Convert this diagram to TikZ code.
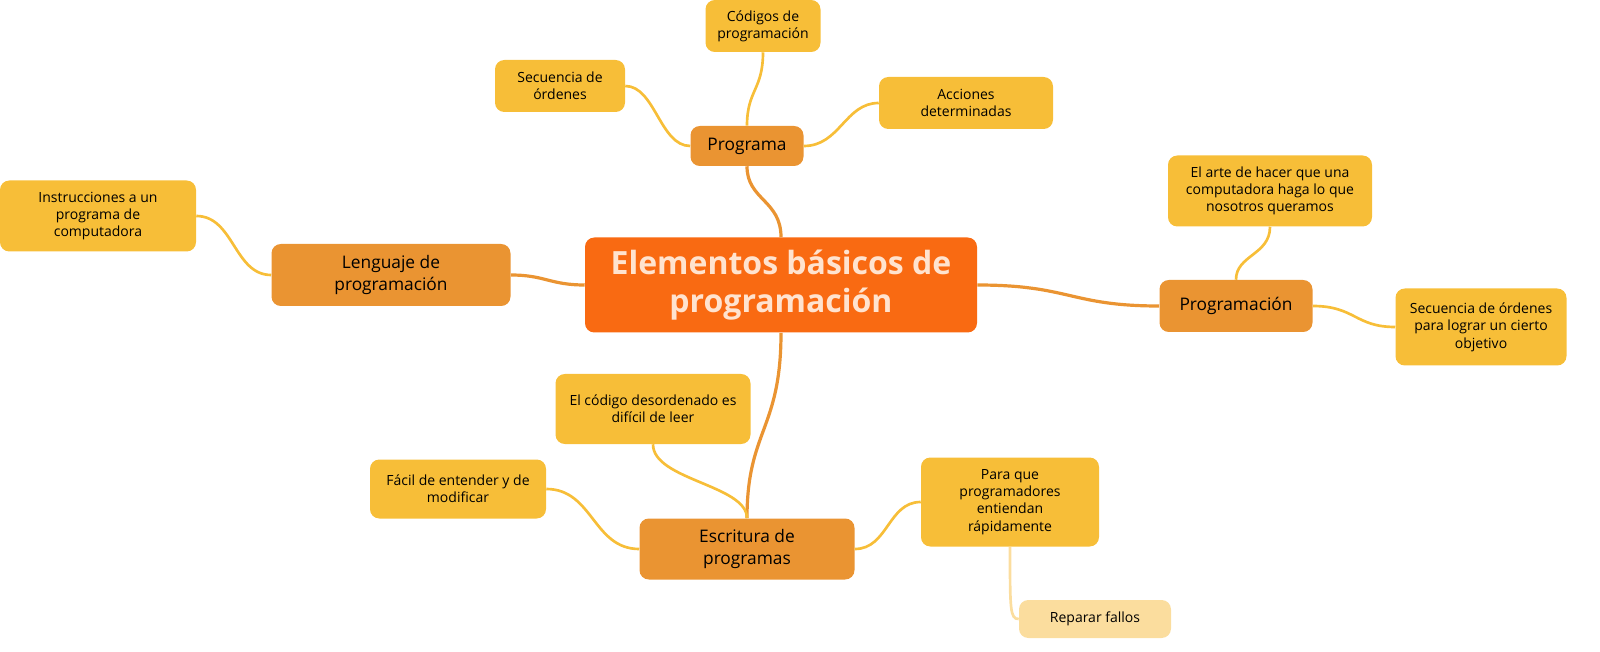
\documentclass[tikz,border=0pt]{standalone}
\usepackage{fontspec}
\setmainfont{Open Sans}
\definecolor{cmain}{HTML}{F96A12}
\definecolor{cmid}{HTML}{EA9432}
\definecolor{cleaf}{HTML}{F7BE38}
\definecolor{clight}{HTML}{FBDD9E}
\definecolor{ctext}{HTML}{FFE3CF}
\begin{document}
\begin{tikzpicture}[x=0.75pt,y=-0.75pt,
  box/.style 2 args={rounded corners=7pt,minimum width=#1*0.75pt,minimum height=#2*0.75pt,inner sep=1pt,align=center},
  mainbox/.style={box={392}{95},fill=cmain,text=ctext,font=\bfseries\fontsize{24}{28}\selectfont},
  midbox/.style={fill=cmid,text=black,font=\fontsize{13}{16}\selectfont},
  leafbox/.style={fill=cleaf,text=black,font=\fontsize{10.5}{13}\selectfont},
  mline/.style={draw=cmid,line width=2.4pt},
  lline/.style={draw=cleaf,line width=2pt},
  xline/.style={draw=clight,line width=2pt}]
\useasboundingbox (0,0) rectangle (1600,652);
\node[mainbox] (c) at (781,285) {Elementos básicos de\\programación};
\node[box={113}{40},midbox] (p) at (747,146) {Programa};
\node[box={239}{62},midbox] (l) at (391,275) {Lenguaje de\\programación};
\node[box={153}{52},midbox] (g) at (1236,306) {Programación};
\node[box={215}{61},midbox] (e) at (747,549) {Escritura de\\programas};
\node[box={115}{52},leafbox] (p1) at (763,26) {Códigos de\\programación};
\node[box={130}{52},leafbox] (p2) at (560,86) {Secuencia de\\órdenes};
\node[box={174}{52},leafbox] (p3) at (966,103) {Acciones\\determinadas};
\node[box={196}{71},leafbox] (l1) at (98,216) {Instrucciones a un\\programa de\\computadora};
\node[box={204}{71},leafbox] (g1) at (1270,191) {El arte de hacer que una\\computadora haga lo que\\nosotros queramos};
\node[box={171}{77},leafbox] (g2) at (1481,327) {Secuencia de órdenes\\para lograr un cierto\\objetivo};
\node[box={195}{70},leafbox] (e1) at (653,409) {El código desordenado es\\difícil de leer};
\node[box={176}{59},leafbox] (e2) at (458,489) {Fácil de entender y de\\modificar};
\node[box={178}{89},leafbox] (e3) at (1010,502) {Para que\\programadores\\entiendan\\rápidamente};
\node[box={152}{38},fill=clight,font=\fontsize{10.5}{13}\selectfont] (e4) at (1095,619) {Reparar fallos};
% main branches
\draw[mline] (c.north) ++(0,0) .. controls (781,200) and (747,200) .. (p.south);
\draw[mline] (c.west) .. controls (550,285) and (545,275) .. (l.east);
\draw[mline] (c.east) .. controls (1070,285) and (1070,306) .. (g.west);
\draw[mline] (c.south) .. controls (781,430) and (747,430) .. (e.north);
% leaves
\draw[lline] (p.west) .. controls (660,146) and (655,86) .. (p2.east);
\draw[lline] (p.north) .. controls (747,90) and (763,90) .. (p1.south);
\draw[lline] (p.east) .. controls (840,146) and (845,103) .. (p3.west);
\draw[lline] (l.west) .. controls (234,275) and (234,216) .. (l1.east);
\draw[lline] (g.north) .. controls (1236,255) and (1270,255) .. (g1.south);
\draw[lline] (g.east) .. controls (1355,306) and (1355,327) .. (g2.west);
\draw[lline] (e.north) .. controls (747,485) and (653,480) .. (e1.south);
\draw[lline] (e.west) .. controls (593,549) and (593,489) .. (e2.east);
\draw[lline] (e.east) .. controls (888,549) and (888,502) .. (e3.west);
\draw[xline] (e3.south) .. controls (1010,610) and (1010,619) .. (e4.west);
\end{tikzpicture}
\end{document}
